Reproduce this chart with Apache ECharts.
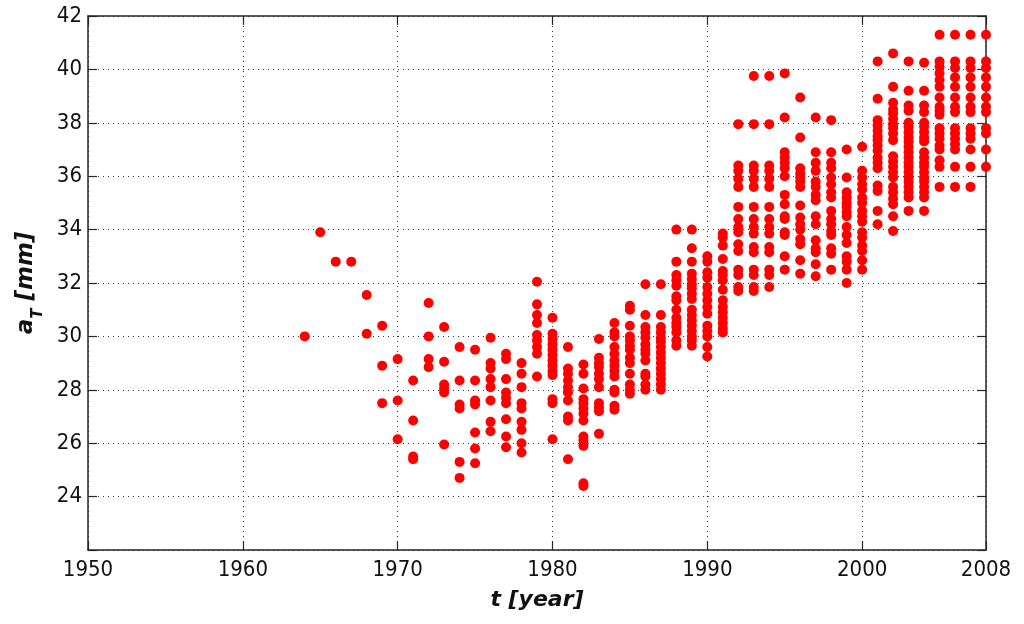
<!DOCTYPE html>
<html>
<head>
<meta charset="utf-8">
<script src="https://cdn.jsdelivr.net/npm/echarts@6/dist/echarts.min.js"></script>
<style>html,body{margin:0;padding:0;background:#fff;}#c{width:1024px;height:624px;}</style>
</head>
<body>
<div id="c"></div>
<script>
const years = [1964,1965,1966,1967,1968,1969,1970,1971,1972,1973,1974,1975,1976,1977,1978,1979,1980,1981,1982,1983,1984,1985,1986,1987,1988,1989,1990,1991,1992,1993,1994,1995,1996,1997,1998,1999,2000,2001,2002,2003,2004,2005,2006,2007,2008];
const valuesByYear = [
  [30.0],
  [33.9],
  [32.8],
  [32.8],
  [31.55, 30.1],
  [30.4, 28.9, 27.5],
  [29.15, 27.6, 26.15],
  [28.35, 26.85, 25.5, 25.4],
  [31.25, 30.0, 29.15, 28.85],
  [30.35, 29.05, 28.2, 28.05, 27.9, 25.95],
  [29.6, 28.35, 27.45, 27.3, 25.3, 24.7],
  [29.5, 28.35, 27.6, 27.45, 26.4, 25.8, 25.25],
  [29.95, 29.0, 28.8, 28.4, 28.1, 27.6, 26.8, 26.45],
  [29.35, 29.15, 28.4, 27.9, 27.7, 27.5, 26.9, 26.25, 25.85],
  [29.0, 28.6, 28.1, 27.5, 27.3, 26.8, 26.5, 26.0, 25.65],
  [32.05, 31.2, 30.8, 30.5, 30.05, 29.85, 29.6, 29.35, 28.5],
  [30.7, 30.1, 29.9, 29.7, 29.5, 29.3, 29.1, 28.9, 28.7, 28.55, 27.65, 27.5, 26.15],
  [29.6, 28.8, 28.6, 28.35, 28.1, 27.9, 27.6, 27.0, 26.85, 25.4],
  [28.95, 28.6, 28.05, 27.65, 27.5, 27.3, 27.1, 26.85, 26.25, 26.1, 25.9, 24.5, 24.4],
  [29.9, 29.2, 29.0, 28.85, 28.6, 28.4, 28.1, 27.5, 27.35, 27.2, 26.35],
  [30.5, 30.15, 30.0, 29.6, 29.35, 29.1, 28.9, 28.7, 28.5, 28.0, 27.9, 27.4, 27.25],
  [31.15, 31.0, 30.4, 30.0, 29.85, 29.65, 29.5, 29.2, 29.0, 28.6, 28.2, 28.0, 27.85],
  [31.95, 30.8, 30.35, 30.15, 29.95, 29.7, 29.5, 29.35, 29.1, 28.6, 28.5, 28.2, 28.0],
  [31.95, 30.8, 30.35, 30.15, 29.95, 29.8, 29.6, 29.4, 29.2, 29.0, 28.8, 28.6, 28.4, 28.2, 28.0],
  [34.0, 32.8, 32.3, 32.1, 31.9, 31.5, 31.35, 31.0, 30.7, 30.5, 30.35, 30.15, 29.85, 29.65],
  [34.0, 33.3, 32.8, 32.35, 32.15, 31.95, 31.8, 31.6, 31.4, 31.0, 30.8, 30.6, 30.4, 30.2, 30.0, 29.85, 29.65],
  [33.0, 32.8, 32.4, 32.2, 31.85, 31.6, 31.35, 31.1, 30.85, 30.4, 30.2, 30.0, 29.6, 29.25],
  [33.85, 33.7, 33.4, 32.9, 32.45, 32.3, 32.1, 31.75, 31.35, 31.1, 30.9, 30.7, 30.5, 30.3, 30.15],
  [37.95, 36.4, 36.2, 35.9, 35.6, 34.85, 34.4, 34.1, 33.9, 33.45, 33.2, 32.5, 32.3, 31.85, 31.7],
  [39.75, 37.95, 36.4, 36.2, 35.9, 35.6, 34.85, 34.4, 34.1, 33.85, 33.35, 33.15, 32.5, 32.3, 31.85, 31.7],
  [39.75, 37.95, 36.4, 36.2, 35.9, 35.6, 34.85, 34.4, 34.1, 33.85, 33.35, 33.15, 32.5, 32.3, 31.85],
  [39.85, 38.2, 36.9, 36.7, 36.5, 36.3, 36.0, 35.3, 34.95, 34.5, 34.4, 33.9, 33.8, 33.0, 32.5],
  [38.95, 37.45, 36.3, 36.1, 35.95, 35.8, 35.6, 34.9, 34.45, 34.2, 34.0, 33.65, 33.45, 32.85, 32.35],
  [38.2, 36.9, 36.5, 36.2, 35.8, 35.6, 35.3, 35.1, 34.5, 34.2, 33.6, 33.3, 33.15, 32.7, 32.25],
  [38.1, 36.9, 36.5, 36.3, 35.95, 35.7, 35.4, 35.2, 34.7, 34.4, 34.2, 33.95, 33.8, 33.3, 33.1, 32.5],
  [37.0, 35.95, 35.4, 35.2, 35.0, 34.85, 34.65, 34.5, 34.1, 33.8, 33.5, 33.0, 32.8, 32.5, 32.0],
  [37.1, 36.2, 35.95, 35.7, 35.5, 35.2, 35.0, 34.7, 34.5, 34.3, 33.9, 33.7, 33.4, 33.2, 32.85, 32.5],
  [40.3, 38.9, 38.1, 37.9, 37.7, 37.5, 37.35, 37.15, 36.95, 36.7, 36.5, 36.3, 35.65, 35.45, 34.7, 34.2],
  [40.6, 39.35, 38.75, 38.5, 38.35, 38.15, 37.95, 37.8, 37.6, 37.35, 36.75, 36.55, 36.35, 36.15, 35.95, 35.6, 35.4, 35.15, 34.95, 34.5, 33.95],
  [40.3, 39.2, 38.65, 38.45, 38.0, 37.85, 37.65, 37.45, 37.3, 37.1, 36.9, 36.7, 36.5, 36.35, 36.15, 35.95, 35.8, 35.6, 35.4, 35.2, 34.7],
  [40.25, 39.2, 38.65, 38.4, 38.0, 37.85, 37.65, 37.45, 37.3, 36.9, 36.7, 36.5, 36.35, 36.15, 35.95, 35.8, 35.6, 35.4, 35.2, 34.7],
  [41.3, 40.3, 40.1, 39.85, 39.6, 39.35, 38.95, 38.6, 38.45, 38.3, 37.8, 37.6, 37.4, 37.15, 37.0, 36.6, 36.35, 35.6],
  [41.3, 40.3, 40.05, 39.7, 39.35, 38.95, 38.6, 38.4, 37.8, 37.6, 37.4, 37.2, 37.0, 36.35, 35.6],
  [41.3, 40.3, 40.05, 39.7, 39.35, 38.95, 38.6, 38.4, 37.8, 37.6, 37.4, 37.0, 36.35, 35.6],
  [41.3, 40.3, 40.05, 39.7, 39.35, 38.95, 38.6, 38.4, 37.8, 37.6, 37.0, 36.35]
];
const xTicks = [1950, 1960, 1970, 1980, 1990, 2000, 2008];
const yTicks = [24, 26, 28, 30, 32, 34, 36, 38, 40, 42];

const points = [];
years.forEach((yr, i) => valuesByYear[i].forEach(v => points.push([yr, v])));

const axisColor = '#262626';
const tickFont = { fontFamily: 'DejaVu Sans Condensed, DejaVu Sans, sans-serif', fontSize: 22, color: '#111' };
const nameFont = { fontFamily: 'DejaVu Sans, sans-serif', fontSize: 22, fontWeight: 'bold', fontStyle: 'italic', color: '#111' };
const grid = { left: 88, right: 38, top: 16, bottom: 74 };
const xmin = xTicks[0], xmax = xTicks[xTicks.length - 1];
const ymin = 22, ymax = yTicks[yTicks.length - 1];

const chart = echarts.init(document.getElementById('c'), null, { renderer: 'canvas' });
chart.setOption({
  animation: false,
  backgroundColor: '#fff',
  grid: grid,
  xAxis: [{
    type: 'value', min: xmin, max: xmax, interval: 10,
    name: 't [year]', nameLocation: 'middle', nameGap: 39, nameTextStyle: nameFont,
    axisLine: { show: true, lineStyle: { color: axisColor, width: 1.5 } },
    axisTick: { show: true, inside: true, length: 9, lineStyle: { color: axisColor, width: 1.2 } },
    axisLabel: Object.assign({ margin: 9, showMaxLabel: true, formatter: v => xTicks.indexOf(v) >= 0 ? String(v) : '' }, tickFont),
    splitLine: { show: true, lineStyle: { color: '#333', type: [1, 4], width: 1 } }
  }, {
    type: 'value', min: xmin, max: xmax, interval: 10, position: 'top',
    axisLine: { show: true, onZero: false, lineStyle: { color: axisColor, width: 1.5 } },
    axisTick: { show: true, inside: true, length: 9, lineStyle: { color: axisColor, width: 1.2 } },
    axisLabel: { show: false }, splitLine: { show: false }
  }],
  yAxis: [{
    type: 'value', min: ymin, max: ymax, interval: 2,
    name: '{a|a}{s|T}{a| [mm]}', nameLocation: 'middle', nameGap: 48, nameRotate: 90,
    nameTextStyle: Object.assign({}, nameFont, { rich: {
      a: Object.assign({}, nameFont, { fontSize: 23 }),
      s: Object.assign({}, nameFont, { fontSize: 15, verticalAlign: 'bottom', padding: [0, 0, -8, 0] })
    } }),
    axisLine: { show: true, onZero: false, lineStyle: { color: axisColor, width: 1.5 } },
    axisTick: { show: true, inside: true, length: 9, lineStyle: { color: axisColor, width: 1.2 } },
    axisLabel: Object.assign({ margin: 6, formatter: v => yTicks.indexOf(v) >= 0 ? String(v) : '' }, tickFont),
    splitLine: { show: true, lineStyle: { color: '#333', type: [1, 4], width: 1 } }
  }, {
    type: 'value', min: ymin, max: ymax, interval: 2, position: 'right',
    axisLine: { show: true, onZero: false, lineStyle: { color: axisColor, width: 1.5 } },
    axisTick: { show: true, inside: true, length: 9, lineStyle: { color: axisColor, width: 1.2 } },
    axisLabel: { show: false }, splitLine: { show: false }
  }],
  series: [{
    type: 'scatter', xAxisIndex: 0, yAxisIndex: 0,
    data: points, symbol: 'circle', symbolSize: 10, clip: false,
    itemStyle: { color: '#ff0000', opacity: 1 }
  }]
});
</script>
</body>
</html>
